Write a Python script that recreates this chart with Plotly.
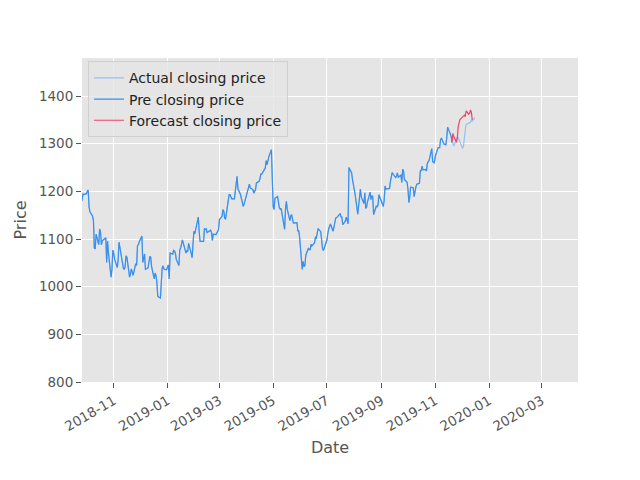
import pandas as pd
import plotly.graph_objects as go

# trading calendar (NYSE closed days inside the range)
start_date = "2018-09-26"
end_date = "2019-12-16"
holidays = ["2018-11-22", "2018-12-05", "2018-12-25", "2019-01-01", "2019-01-21",
            "2019-02-18", "2019-04-19", "2019-05-27", "2019-07-04", "2019-09-02",
            "2019-11-28"]

# closing prices, 2018-09-26 .. 2019-11-20
pre_close = [
    1180.5, 1194.6, 1193.5,
    1195.3, 1200.1, 1202.9, 1168.2, 1157.4, 1148.0, 1138.8, 1081.2, 1079.3, 1110.1,
    1088.3, 1121.3, 1115.7, 1088.0, 1096.5, 1101.2, 1102.6, 1050.7, 1095.6, 1071.5,
    1020.1, 1036.2, 1076.8,
    1070.0, 1057.8, 1040.1, 1055.8, 1093.4, 1082.4, 1066.2, 1038.6, 1036.1, 1043.7,
    1064.7, 1061.5, 1020.0, 1025.8, 1037.6, 1023.9, 1048.6, 1044.4, 1086.2, 1088.3, 1094.4,
    1106.4, 1050.8, 1068.7, 1036.6, 1039.6, 1051.8, 1063.7, 1061.9, 1042.1, 1016.5,
    1028.7, 1023.0, 1009.4, 979.5, 976.2, 1039.5, 1043.9, 1037.1, 1035.6,
    1045.9, 1016.1, 1070.7, 1068.4, 1076.3, 1074.7, 1070.3, 1057.2, 1044.7, 1077.6,
    1081.0, 1089.9, 1098.3, 1070.5, 1075.6, 1073.9, 1091.0, 1070.1, 1060.6, 1089.1, 1116.4,
    1110.8, 1132.8, 1146.0, 1115.2, 1095.1, 1095.0, 1095.0, 1121.4, 1120.2, 1121.7,
    1113.7, 1118.6, 1113.8, 1097.0, 1110.4, 1109.4, 1115.1, 1116.1, 1119.9,
    1141.0, 1147.8, 1162.0, 1157.9, 1143.3, 1142.3, 1175.8, 1193.2, 1193.3, 1185.6,
    1184.5, 1184.3, 1198.9, 1224.0, 1231.5, 1205.5, 1193.0, 1184.6, 1173.0, 1168.5, 1173.3,
    1194.4, 1200.5, 1205.9, 1215.0, 1207.2, 1203.8, 1196.3, 1202.2, 1204.6, 1217.9,
    1221.1, 1227.1, 1236.3, 1236.4, 1248.8, 1264.6, 1256.0, 1263.4, 1272.2, 1287.6, 1188.5,
    1168.1, 1162.0, 1185.4, 1189.4, 1174.1, 1166.3, 1162.4, 1164.3, 1132.0, 1120.4, 1164.2,
    1179.0, 1162.3, 1138.9, 1148.9, 1151.4, 1140.8, 1133.5, 1134.2, 1116.5, 1118.0, 1103.6,
    1036.2, 1053.1, 1042.2, 1044.3, 1066.0, 1080.4, 1078.7, 1077.0, 1088.8, 1085.4,
    1092.5, 1103.6, 1102.3, 1111.4, 1121.9, 1115.5, 1086.4, 1079.8, 1076.0, 1080.9,
    1098.0, 1111.3, 1121.6, 1131.6, 1116.4, 1124.8, 1140.5, 1144.2, 1144.7, 1150.3, 1153.6,
    1146.4, 1146.3, 1130.1, 1138.1, 1146.2, 1137.8, 1132.1, 1250.4, 1239.4, 1225.1, 1216.7,
    1209.0, 1194.0, 1152.3, 1170.0, 1174.0, 1204.8, 1188.0, 1174.7, 1197.3, 1164.3, 1167.3,
    1177.6, 1198.5, 1182.7, 1191.3, 1189.5, 1151.3, 1168.9, 1167.8, 1171.0, 1192.9, 1188.1,
    1168.4, 1181.4, 1211.4, 1204.9, 1205.7, 1206.3, 1220.2, 1234.3, 1239.6, 1231.3,
    1229.2, 1232.4, 1238.7, 1229.9, 1234.0, 1218.8, 1246.5, 1242.3, 1225.1, 1219.0,
    1205.1, 1176.6, 1187.8, 1209.0, 1207.7, 1189.1, 1202.3, 1209.5, 1215.1, 1217.1, 1243.0,
    1243.6, 1253.1, 1245.5, 1246.2, 1242.8, 1259.1, 1261.0, 1265.1, 1290.0, 1262.6, 1261.3, 1260.1,
    1273.7, 1291.4, 1292.0, 1291.8, 1308.9, 1311.4, 1299.2, 1298.9, 1298.0, 1311.5,
    1334.9, 1320.7, 1315.5, 1303.1,
]

# actual closes after the split, 2019-11-21 .. 2019-12-16
actual_tail = [1301.4, 1295.3, 1306.7, 1313.6, 1313.0, 1305.0, 1289.9, 1295.3, 1320.5,
               1328.1, 1340.6, 1343.6, 1344.7, 1345.0, 1350.3, 1347.8, 1355.0]

# forecast, 2019-11-20 .. 2019-12-13
forecast_close = [1303.1, 1322.0, 1315.0, 1303.0, 1312.0, 1336.0, 1351.0, 1356.0, 1358.0,
                  1360.0, 1357.0, 1369.0, 1362.0, 1364.0, 1371.0, 1366.0, 1350.0]

days = pd.bdate_range(start_date, end_date)
days = days[~days.isin(pd.to_datetime(holidays))]

n_pre = len(pre_close)
actual_close = pre_close + actual_tail
actual_dates = days[:len(actual_close)]
pre_dates = days[:n_pre]
forecast_dates = days[n_pre - 1:n_pre - 1 + len(forecast_close)]

fig = go.Figure()
fig.add_trace(go.Scatter(x=actual_dates, y=actual_close, mode="lines",
                         name="Actual closing price",
                         line=dict(color="#92c1f3", width=1.2)))
fig.add_trace(go.Scatter(x=pre_dates, y=pre_close, mode="lines",
                         name="Pre closing price",
                         line=dict(color="#3b8fe9", width=1.2)))
fig.add_trace(go.Scatter(x=forecast_dates, y=forecast_close, mode="lines",
                         name="Forecast closing price",
                         line=dict(color="#f0426b", width=1.2)))

axis_font = dict(family="DejaVu Sans", size=13.5, color="#555555")

# page body adds 8px on the left/top, so margins are shifted to compensate
fig.update_layout(
    width=640, height=480,
    margin=dict(l=72, r=70, t=50, b=106),
    paper_bgcolor="white",
    plot_bgcolor="#e5e5e5",
    font=dict(family="DejaVu Sans", color="#555555"),
    showlegend=True,
    legend=dict(x=0.012, y=0.99, xanchor="left", yanchor="top",
                bgcolor="rgba(229,229,229,0.8)", bordercolor="#cfcfcf", borderwidth=1,
                font=dict(family="DejaVu Sans", size=14, color="#222222"),
                itemwidth=30, tracegroupgap=0),
)
fig.update_xaxes(
    range=["2018-09-26", "2020-04-11"],
    tick0="2018-11-01", dtick="M2", tickformat="%Y-%m", tickangle=-30,
    ticks="outside", ticklen=5, tickcolor="#555555", tickfont=axis_font,
    showgrid=True, gridcolor="white", gridwidth=1, zeroline=False, showline=False,
    title=dict(text="Date", font=dict(family="DejaVu Sans", size=16, color="#555555"), standoff=8),
)
fig.update_yaxes(
    range=[800, 1480], tick0=800, dtick=100,
    ticks="outside", ticklen=5, tickcolor="#555555", tickfont=axis_font,
    showgrid=True, gridcolor="white", gridwidth=1, zeroline=False, showline=False,
    title=dict(text="Price", font=dict(family="DejaVu Sans", size=16, color="#555555"), standoff=8),
)

fig.write_html("out.html")
